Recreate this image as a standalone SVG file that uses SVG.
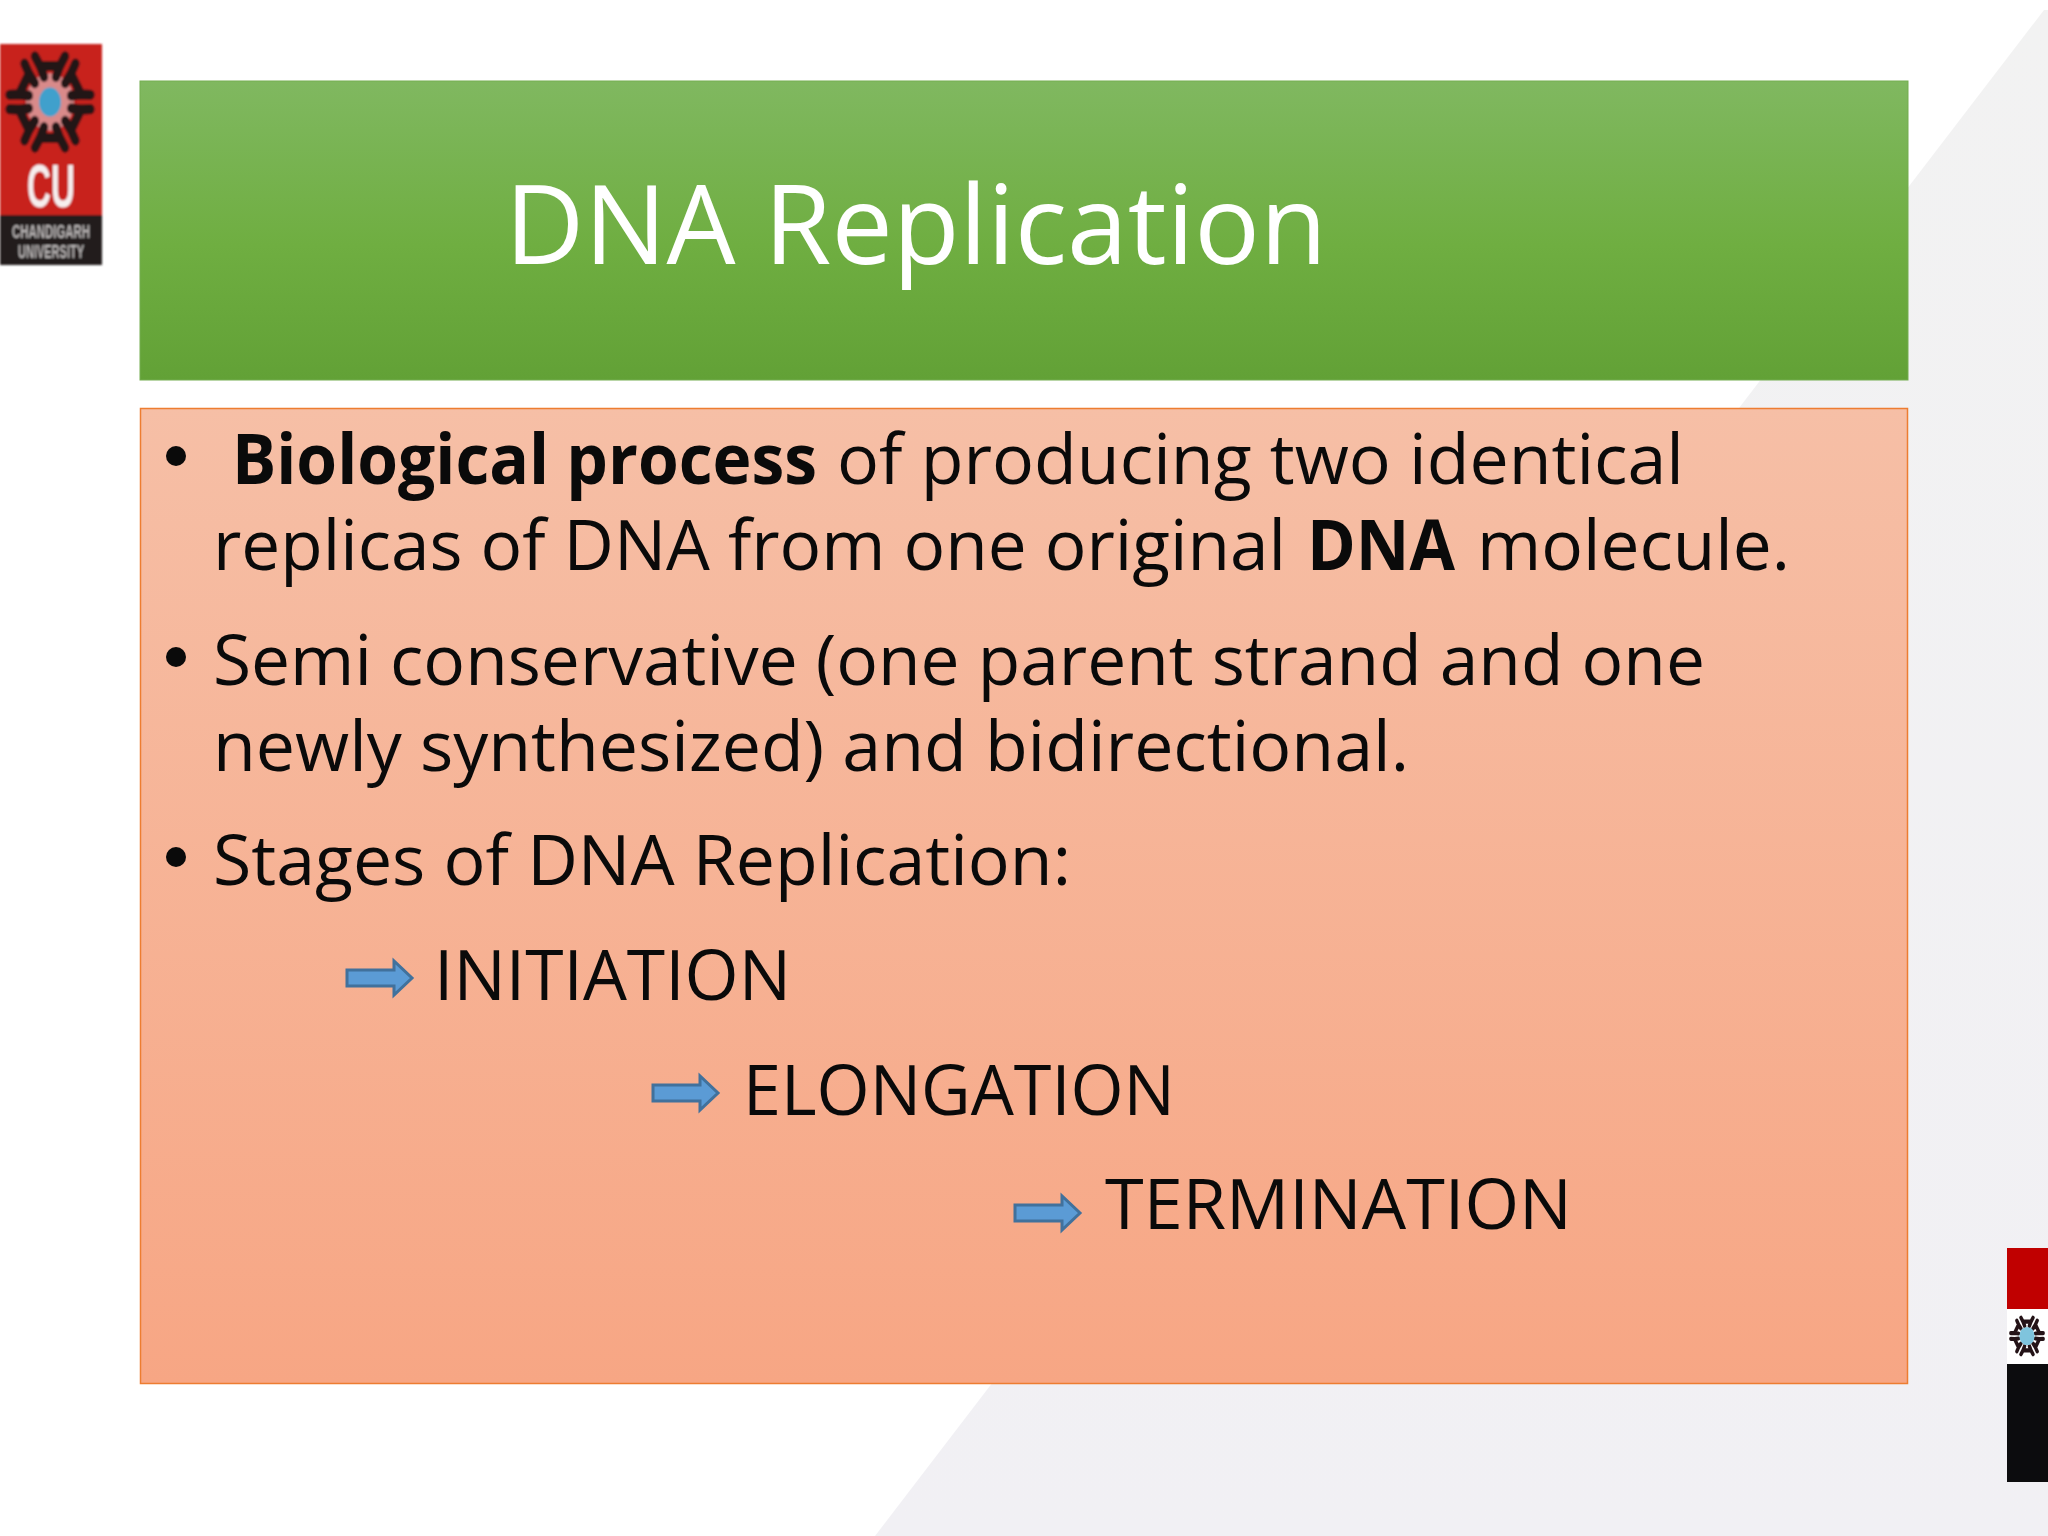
<svg xmlns="http://www.w3.org/2000/svg" width="2048" height="1536" viewBox="0 0 2048 1536">
<style>
text{font-family:"Open Sans","Noto Sans","Liberation Sans",sans-serif;fill:#0a0a0a;font-size:69px;font-variant-ligatures:none}
.b{font-weight:700}
.arrow{fill:#5b9bd5;stroke:#41719c;stroke-width:3}
.dot{fill:#0a0a0a}
.lg{font-family:"Liberation Sans",sans-serif;font-size:18px;font-weight:700;fill:#b9b5b5}
</style>
<defs>
<linearGradient id="g" x1="0" y1="0" x2="0" y2="1"><stop offset="0" stop-color="#80b860"/><stop offset=".55" stop-color="#6fae41"/><stop offset="1" stop-color="#62a136"/></linearGradient>
<linearGradient id="o" x1="0" y1="0" x2="0" y2="1"><stop offset="0" stop-color="#f6bfa6"/><stop offset="1" stop-color="#f7a684"/></linearGradient>
<linearGradient id="bg" x1="0" y1="0" x2="0" y2="1"><stop offset="0" stop-color="#f2f2f2"/><stop offset="1" stop-color="#f1f0f4"/></linearGradient>
<filter id="soft" x="-5%" y="-5%" width="110%" height="110%"><feGaussianBlur stdDeviation=".8"/></filter>
<g id="gear"><g stroke="#241317" stroke-width="17" fill="none" stroke-linecap="round"><path id="sp" d="M-20-60H20M-20-60L-12-42M20-60L12-42M-20-60L-30-76M20-60L30-76"/><use href="#sp" transform="rotate(60)"/><use href="#sp" transform="rotate(120)"/><use href="#sp" transform="rotate(180)"/><use href="#sp" transform="rotate(240)"/><use href="#sp" transform="rotate(300)"/></g></g>
</defs>
<rect width="2048" height="1536" fill="#fff"/>
<polygon points="2044,10 2048,10 2048,1536 875,1536" fill="url(#bg)"/>
<g id="logo" filter="url(#soft)">
<rect x="0" y="44" width="102" height="221" fill="#c8201f"/>
<rect x="0" y="215" width="102" height="50" fill="#201c1c"/>
<g transform="translate(50,102) scale(.5,.6)"><circle r="48" fill="#d98a8a"/><use href="#gear"/><ellipse rx="22" ry="24" fill="#3fa0cc"/></g>
<text x="51" y="207" text-anchor="middle" style="font-family:'Liberation Sans',sans-serif;font-weight:700;font-size:61px;fill:#f6eeee" textLength="48" lengthAdjust="spacingAndGlyphs">CU</text>
<text class="lg" x="51" y="238" text-anchor="middle" textLength="78" lengthAdjust="spacingAndGlyphs">CHANDIGARH</text>
<text class="lg" x="51" y="258" text-anchor="middle" textLength="66" lengthAdjust="spacingAndGlyphs">UNIVERSITY</text>
</g>
<g id="title">
<rect x="140" y="81" width="1768" height="299" fill="url(#g)" stroke="#74ad50" stroke-width="1"/>
<text x="505" y="264" style="font-size:110px;fill:#fff" textLength="822" lengthAdjust="spacingAndGlyphs">DNA Replication</text>
</g>
<g id="content">
<rect x="140.500" y="408.500" width="1767" height="975" fill="url(#o)" stroke="#ed7d31" stroke-width="1.500"/>
<circle class="dot" cx="176" cy="456" r="10"/>
<text class="b" x="232" y="484" textLength="585" lengthAdjust="spacingAndGlyphs">Biological process</text>
<text x="837" y="484" textLength="847" lengthAdjust="spacingAndGlyphs">of producing two identical</text>
<text x="213" y="570" textLength="1073" lengthAdjust="spacingAndGlyphs">replicas of DNA from one original</text>
<text class="b" x="1307" y="570" textLength="148" lengthAdjust="spacingAndGlyphs">DNA</text>
<text x="1477" y="570" textLength="313" lengthAdjust="spacingAndGlyphs">molecule.</text>
<circle class="dot" cx="176" cy="657" r="10"/>
<text x="213" y="685" textLength="1492" lengthAdjust="spacingAndGlyphs">Semi conservative (one parent strand and one</text>
<text x="213" y="771" textLength="1196" lengthAdjust="spacingAndGlyphs">newly synthesized) and bidirectional.</text>
<circle class="dot" cx="176" cy="857" r="10"/>
<text x="213" y="885" textLength="858" lengthAdjust="spacingAndGlyphs">Stages of DNA Replication:</text>
<text x="434" y="1000" textLength="357" lengthAdjust="spacingAndGlyphs">INITIATION</text>
<text x="743" y="1115" textLength="432" lengthAdjust="spacingAndGlyphs">ELONGATION</text>
<text x="1105" y="1229" textLength="467" lengthAdjust="spacingAndGlyphs">TERMINATION</text>
</g>
<g id="arrows">
<path id="a1" class="arrow" d="M347 970H394V961L412 978L394 995V986H347Z"/>
<use href="#a1" x="306" y="115"/>
<use href="#a1" x="668" y="235"/>
</g>
<g id="side">
<rect x="2007" y="1248" width="41" height="61" fill="#c00000"/>
<rect x="2007" y="1309" width="41" height="55" fill="#fff"/>
<g transform="translate(2027,1336) scale(.2,.24)"><use href="#gear"/><circle r="38" fill="#7fc4dd"/></g>
<rect x="2007" y="1364" width="41" height="118" fill="#0c0c0e"/>
</g>
</svg>
